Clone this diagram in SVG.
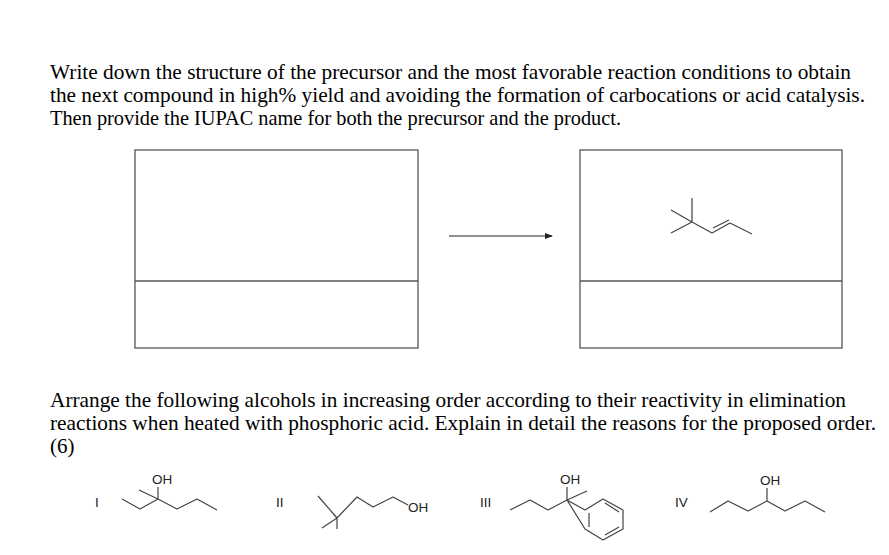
<svg xmlns="http://www.w3.org/2000/svg" width="889" height="555" viewBox="0 0 889 555">
<style>
.t{font-family:"Liberation Serif",serif;font-size:21px;fill:#000}
.s{font-family:"Liberation Sans",sans-serif;font-size:13.5px;fill:#222}
.b{fill:none;stroke:#555;stroke-width:1.3}
.m{fill:none;stroke:#444;stroke-width:1.2;stroke-linejoin:round}
</style>
<defs><marker id="ah" markerWidth="8" markerHeight="6" refX="7" refY="3" orient="auto"><path d="M0,0 L8,3 L0,6 z" fill="#222"/></marker></defs>
<rect width="889" height="555" fill="#fff"/>
<text class="t" x="50" y="79" textLength="801" lengthAdjust="spacingAndGlyphs">Write down the structure of the precursor and the most favorable reaction conditions to obtain</text>
<text class="t" x="50" y="102" textLength="815" lengthAdjust="spacingAndGlyphs">the next compound in high% yield and avoiding the formation of carbocations or acid catalysis.</text>
<text class="t" x="50" y="125" textLength="571" lengthAdjust="spacingAndGlyphs">Then provide the IUPAC name for both the precursor and the product.</text>
<g id="box-precursor"><rect class="b" x="135" y="150" width="283" height="198"/><line class="b" x1="135" y1="281" x2="418" y2="281"/></g>
<g id="box-product"><rect class="b" x="580" y="150" width="262" height="198"/><line class="b" x1="580" y1="281" x2="842" y2="281"/>
<path class="m" d="M671,210 L692,222 L671,233 M692,198 L692,222 L712,233 L730,223 L752,234 M713,228 L729,220"/></g>
<g id="connectors"><line x1="449" y1="236" x2="552" y2="236" stroke="#222" stroke-width="1" marker-end="url(#ah)"/></g>
<text class="t" x="50" y="407" textLength="796" lengthAdjust="spacingAndGlyphs">Arrange the following alcohols in increasing order according to their reactivity in elimination</text>
<text class="t" x="50" y="430" textLength="826" lengthAdjust="spacingAndGlyphs">reactions when heated with phosphoric acid. Explain in detail the reasons for the proposed order.</text>
<text class="t" x="50" y="453">(6)</text>
<g id="alcohol-I"><text class="s" x="95" y="507">I</text>
<path class="m" d="M122,499 L140,509 L158,499 L177,509 L197,499 L217,510 M158,499 L139,490 M158,499 L158,487"/>
<text class="s" x="152" y="484">OH</text></g>
<g id="alcohol-II"><text class="s" x="276" y="507">II</text>
<path class="m" d="M318,496 L337,518 L322,528 M337,518 L337,529 M337,518 L357,497 L373,507 L393,497 L408,505"/>
<text class="s" x="408" y="512">OH</text></g>
<g id="alcohol-III"><text class="s" x="480" y="507">III</text>
<path class="m" d="M510,510 L530,500 L548,510 L567,500 L587,491 M567,500 L567,487 M567,500 L585,510 L603,499 L623,510 L623,529 L603,540 L585,529 Z M605,503 L619,512 M619,527 L605,535 M589,527 L589,513"/>
<text class="s" x="560" y="484">OH</text></g>
<g id="alcohol-IV"><text class="s" x="675" y="507">IV</text>
<path class="m" d="M710,512 L728,501 L748,511 L767,501 L785,511 L805,501 L825,512 M767,501 L767,488"/>
<text class="s" x="760" y="485">OH</text></g>
</svg>
